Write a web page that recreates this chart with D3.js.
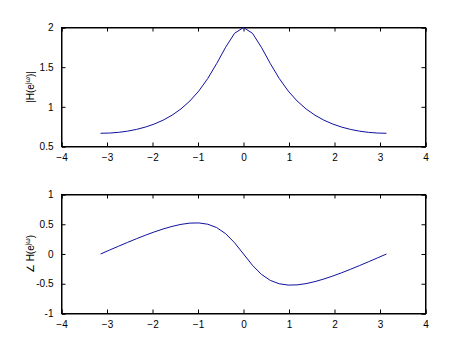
<!DOCTYPE html>
<html><head><meta charset="utf-8">
<script src="https://cdn.jsdelivr.net/npm/d3@7"></script>
<style>body{margin:0;background:#fff}svg{display:block}text{font-family:"Liberation Sans",Arial,sans-serif;font-size:10px;fill:#000}</style>
</head><body>
<script>
// Frequency samples (rad), k*pi/16 for k=-16..16
const omega = [-3.1416,-2.9452,-2.7489,-2.5525,-2.3562,-2.1598,-1.9635,-1.7671,-1.5708,-1.3744,-1.1781,-0.9817,-0.7854,-0.5890,-0.3927,-0.1963,0,0.1963,0.3927,0.5890,0.7854,0.9817,1.1781,1.3744,1.5708,1.7671,1.9635,2.1598,2.3562,2.5525,2.7489,2.9452,3.1416];
const magnitude = [0.6667,0.6695,0.6782,0.6931,0.7148,0.7442,0.7826,0.8319,0.8944,0.9736,1.0738,1.2000,1.3572,1.5457,1.7511,1.9273,2.0,1.9273,1.7511,1.5457,1.3572,1.2000,1.0738,0.9736,0.8944,0.8319,0.7826,0.7442,0.7148,0.6931,0.6782,0.6695,0.6667];
const phase = [0,0.0654,0.1301,0.1938,0.2555,0.3146,0.3699,0.4202,0.4636,0.4978,0.5190,0.5223,0.5005,0.4440,0.3416,0.1891,0,-0.1891,-0.3416,-0.4440,-0.5005,-0.5223,-0.5190,-0.4978,-0.4636,-0.4202,-0.3699,-0.3146,-0.2555,-0.1938,-0.1301,-0.0654,0];
const xTicks = [-4,-3,-2,-1,0,1,2,3,4];
const magTicks = [0.5,1,1.5,2];
const phaseTicks = [-1,-0.5,0,0.5,1];

const W=470,H=353;
const svg=d3.select("body").append("svg").attr("width",W).attr("height",H);
const x=d3.scaleLinear().domain([-4,4]).range([61.5,425.5]);

function panel(top,bottom,domain,ticks,vals,labelBuilder){
  const y=d3.scaleLinear().domain(domain).range([bottom,top]);
  const g=svg.append("g");
  const tl=4;
  g.append("g").attr("transform",`translate(0,${bottom})`)
    .call(d3.axisBottom(x).tickValues(xTicks).tickSize(-tl).tickPadding(tl+3).tickFormat(d3.format("d")));
  g.append("g").attr("transform",`translate(0,${top})`)
    .call(d3.axisTop(x).tickValues(xTicks).tickSize(-tl).tickFormat(""));
  g.append("g").attr("transform",`translate(${x.range()[0]},0)`)
    .call(d3.axisLeft(y).tickValues(ticks).tickSize(-tl).tickPadding(tl+4).tickFormat(d=>String(d)));
  g.append("g").attr("transform",`translate(${x.range()[1]},0)`)
    .call(d3.axisRight(y).tickValues(ticks).tickSize(-tl).tickFormat(""));
  g.selectAll(".domain").attr("stroke","#000").attr("stroke-width",1);
  g.selectAll(".tick line").attr("stroke","#000");
  g.selectAll(".tick text").style("font-size","10px").attr("fill","#000");
  g.append("rect").attr("x",x.range()[0]).attr("y",top).attr("width",x.range()[1]-x.range()[0]).attr("height",bottom-top)
    .attr("fill","none").attr("stroke","#000").attr("stroke-width",1);
  const line=d3.line().x((d,i)=>x(omega[i])).y(d=>y(d));
  g.append("path").datum(vals).attr("d",line).attr("fill","none").attr("stroke","#1010a0").attr("stroke-width",1);
  const lab=g.append("text").attr("transform",`translate(34,${(top+bottom)/2}) rotate(-90)`).attr("text-anchor","middle");
  labelBuilder(lab);
}
panel(27.5,146.5,[0.5,2],magTicks,magnitude,t=>{
  t.append("tspan").text("|H(e");
  t.append("tspan").attr("dy",-4).style("font-size","7px").text("jω");
  t.append("tspan").attr("dy",4).text(")|");
});
panel(194.5,313.5,[-1,1],phaseTicks,phase,t=>{
  t.append("tspan").text("∠ H(e");
  t.append("tspan").attr("dy",-4).style("font-size","7px").text("jω");
  t.append("tspan").attr("dy",4).text(")");
});
</script>
</body></html>
